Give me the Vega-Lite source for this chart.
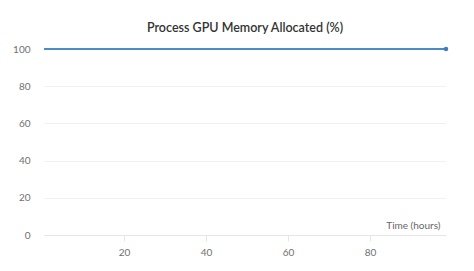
{
  "$schema": "https://vega.github.io/schema/vega-lite/v6.json",
  "width": 402,
  "height": 186,
  "autosize": "none",
  "padding": {"left": 44, "top": 49, "right": 28, "bottom": 36},
  "background": "white",
  "title": {
    "text": "Process GPU Memory Allocated (%)",
    "font": "Lato",
    "fontSize": 12.5,
    "fontWeight": 600,
    "color": "#333333",
    "anchor": "middle",
    "offset": 10
  },
  "data": {
    "values": [
      {"time": 0.5, "value": 100},
      {"time": 10, "value": 100},
      {"time": 20, "value": 100},
      {"time": 30, "value": 100},
      {"time": 40, "value": 100},
      {"time": 50, "value": 100},
      {"time": 60, "value": 100},
      {"time": 70, "value": 100},
      {"time": 80, "value": 100},
      {"time": 90, "value": 100},
      {"time": 98.5, "value": 100}
    ]
  },
  "config": {
    "view": {"stroke": null},
    "axis": {"labelFont": "Lato", "titleFont": "Lato", "labelColor": "#707070", "titleColor": "#666666", "labelFontSize": 10}
  },
  "encoding": {
    "x": {
      "field": "time",
      "type": "quantitative",
      "scale": {"domain": [0.5, 98.5], "nice": false, "zero": false},
      "axis": {
        "values": [20, 40, 60, 80],
        "title": "Time (hours)",
        "titleAnchor": "end",
        "titleAlign": "right",
        "titleBaseline": "bottom",
        "titleY": -5,
        "titleX": 396,
        "titleFontSize": 10,
        "titleFontWeight": "normal",
        "grid": false,
        "domainColor": "#e6e6e6",
        "tickColor": "#e6e6e6",
        "tickSize": 6,
        "labelPadding": 6,
        "labelOverlap": false
      }
    },
    "y": {
      "field": "value",
      "type": "quantitative",
      "scale": {"domain": [0, 100], "nice": false},
      "axis": {
        "values": [0, 20, 40, 60, 80, 100],
        "title": null,
        "domain": false,
        "ticks": false,
        "labelPadding": 14,
        "labelOverlap": false,
        "labelFlush": false,
        "gridColor": "#f0f0f0"
      }
    }
  },
  "layer": [
    {
      "mark": {"type": "line", "color": "#4b8cc4", "strokeWidth": 2}
    },
    {
      "transform": [{"filter": "datum.time == 98.5"}],
      "mark": {"type": "point", "filled": true, "color": "#3f7fbf", "size": 20, "opacity": 1}
    }
  ]
}
